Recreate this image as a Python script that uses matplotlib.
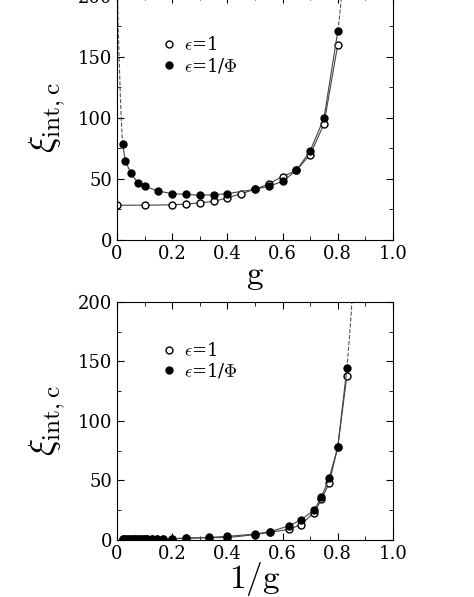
import matplotlib
matplotlib.use("Agg")
import matplotlib.pyplot as plt
from matplotlib.ticker import MultipleLocator

plt.rcParams['font.family'] = 'DejaVu Serif'
plt.rcParams['mathtext.fontset'] = 'cm'

# top panel: xi vs g
g_open = [0.0, 0.1, 0.2, 0.25, 0.3, 0.35, 0.4, 0.45, 0.5, 0.55, 0.6, 0.65, 0.7, 0.75, 0.8]
xi_open = [28.5, 28.5, 28.8, 29.4, 30.5, 31.6, 34.5, 38, 41.5, 46, 52, 57, 70, 95, 160]
g_fill = [0.02, 0.03, 0.05, 0.075, 0.1, 0.15, 0.2, 0.25, 0.3, 0.35, 0.4, 0.5, 0.55, 0.6, 0.65, 0.7, 0.75, 0.8]
xi_fill = [78.5, 65, 54.5, 47, 44, 40, 38, 37.3, 36.7, 37, 38, 41.5, 44, 48, 57, 73, 99.7, 171]
dash1_left_g = [0.001, 0.004, 0.008, 0.012, 0.016, 0.02]
dash1_left_xi = [205, 175, 145, 117, 95, 78.5]
dash1_right_g = [0.8, 0.805, 0.81, 0.815]
dash1_right_xi = [171, 180, 191, 203]

# bottom panel: xi vs 1/g
x_open = [0.02, 0.03, 0.04, 0.05, 0.06, 0.07, 0.08, 0.09, 0.1, 0.11, 0.125, 0.143, 0.167, 0.2, 0.25, 0.333, 0.4, 0.5, 0.556, 0.625, 0.667, 0.714, 0.741, 0.769, 0.8, 0.833]
xi2_open = [0.8, 0.8, 0.8, 0.8, 0.8, 0.8, 0.8, 0.8, 0.8, 0.8, 0.8, 0.9, 1.0, 1.1, 1.4, 2.0, 2.0, 4.5, 6.5, 9, 13, 23, 34, 48, 78, 138]
xi2_fill = [0.8, 0.8, 0.8, 0.8, 0.8, 0.8, 0.8, 0.8, 0.8, 0.8, 0.8, 0.9, 1.0, 1.2, 1.5, 2.2, 3.0, 5.0, 7.0, 12, 17, 25, 36, 52, 78, 144]
dash2_x = [0.833, 0.838, 0.843, 0.848, 0.852]
dash2_xi = [144, 158, 172, 188, 203]

fig = plt.figure(figsize=(4.74, 5.97), dpi=100)
ax1 = fig.add_axes([0.247, 0.598, 0.582, 0.409])
ax2 = fig.add_axes([0.247, 0.0955, 0.582, 0.399])

def style(ax, xlabel):
    ax.set_xlim(0, 1.0)
    ax.set_ylim(0, 200)
    ax.xaxis.set_minor_locator(MultipleLocator(0.1))
    ax.yaxis.set_major_locator(MultipleLocator(50))
    ax.yaxis.set_minor_locator(MultipleLocator(25))
    ax.set_xticks([0, 0.2, 0.4, 0.6, 0.8, 1.0])
    ax.set_xticklabels(['0', '0.2', '0.4', '0.6', '0.8', '1.0'])
    ax.tick_params(which='both', direction='in', top=True, right=True, labelsize=13)
    ax.tick_params(which='major', length=5)
    ax.tick_params(which='minor', length=3)
    ax.set_xlabel(xlabel, fontsize=24, labelpad=-2)
    ax.set_ylabel(r'$\xi_{\rm int,c}$', fontsize=26, labelpad=8)

ax1.plot(dash1_left_g, dash1_left_xi, '--', color='#555555', lw=0.8)
ax1.plot(dash1_right_g, dash1_right_xi, '--', color='#555555', lw=0.8)
ax1.plot(g_open, xi_open, '-', color='#444444', lw=0.8, marker='o', mfc='white', mec='black', ms=5, label=r'$\epsilon$=1')
ax1.plot(g_fill, xi_fill, '-', color='#444444', lw=0.8, marker='o', mfc='black', mec='black', ms=5, label=r'$\epsilon$=1/$\Phi$')
style(ax1, r'$\rm g$')
ax1.legend(loc='upper left', bbox_to_anchor=(0.13, 0.9), frameon=False, handlelength=0, handletextpad=0.8, fontsize=13, labelspacing=0.1)

ax2.plot(dash2_x, dash2_xi, '--', color='#555555', lw=0.8)
ax2.plot(x_open, xi2_open, '-', color='#444444', lw=0.8, marker='o', mfc='white', mec='black', ms=5, label=r'$\epsilon$=1')
ax2.plot(x_open, xi2_fill, '-', color='#444444', lw=0.8, marker='o', mfc='black', mec='black', ms=5, label=r'$\epsilon$=1/$\Phi$')
style(ax2, r'$\rm 1/g$')
ax2.legend(loc='upper left', bbox_to_anchor=(0.13, 0.9), frameon=False, handlelength=0, handletextpad=0.8, fontsize=13, labelspacing=0.1)

fig.savefig('out.png', dpi=100)
